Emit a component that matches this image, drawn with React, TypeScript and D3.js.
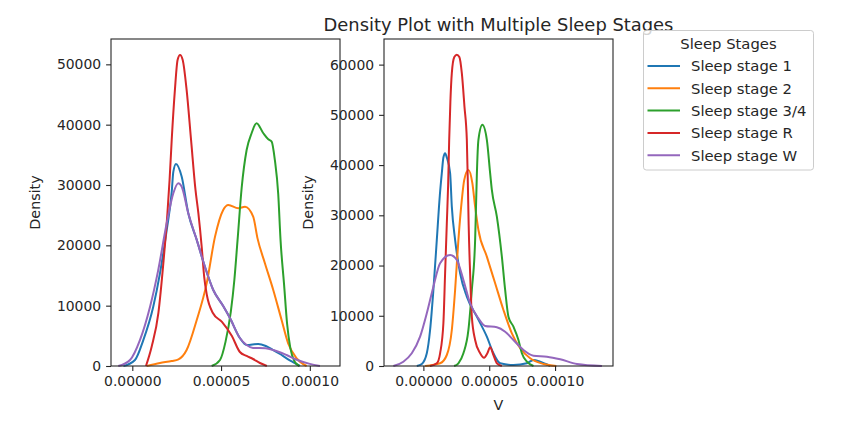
import React, { useRef, useEffect } from 'react';
import * as d3 from 'd3';

type Pt = [number, number];

// x values are in units of 1e-5 V, y values are density
const stageNames = ['Sleep stage 1', 'Sleep stage 2', 'Sleep stage 3/4', 'Sleep stage R', 'Sleep stage W'];
const stageColors = ['#1f77b4', '#ff7f0e', '#2ca02c', '#d62728', '#9467bd'];

// left panel
const leftStage1: Pt[] = [
  [-0.5, 0], [0.15, 1000], [0.62, 4300], [1.18, 9830], [1.56, 15400], [1.94, 22550], [2.22, 28850],
  [2.31, 32170], [2.46, 33500], [2.78, 31400], [3.15, 25370], [3.63, 20900], [4.09, 16460],
  [4.56, 12600], [5.12, 9950], [5.5, 7960], [6.06, 4640], [6.44, 3480], [7.09, 3650], [7.52, 3320],
  [7.94, 2650], [8.32, 1990], [8.69, 1280], [9.05, 660], [9.44, 0],
];
const leftStage2: Pt[] = [
  [0.81, 0], [1.56, 500], [2.22, 830], [2.6, 1100], [3.06, 2650], [3.63, 7630], [4.19, 13700],
  [4.66, 21440], [5.12, 25870], [5.41, 26700], [5.97, 26150], [6.35, 26400], [6.81, 24750],
  [7.05, 21200], [7.47, 17030], [7.94, 12600], [8.41, 7630], [8.78, 3760], [9.26, 1280], [9.82, 0],
];
const leftStage34: Pt[] = [
  [4.47, 0], [4.94, 1000], [5.25, 4000], [5.55, 9000], [5.75, 14300], [5.93, 20900], [6.16, 29500],
  [6.44, 35800], [6.72, 38580], [7.0, 40240], [7.38, 38580], [7.66, 37580], [7.85, 37190],
  [8.03, 34150], [8.22, 28500], [8.35, 20900], [8.55, 13500], [8.72, 7000], [8.9, 3000],
  [9.15, 700], [9.4, 0],
];
const leftStageR: Pt[] = [
  [0.77, 0], [1.09, 3200], [1.47, 8790], [1.75, 17080], [1.98, 25370], [2.1, 30840], [2.22, 37470],
  [2.4, 45760], [2.55, 50730], [2.69, 51560], [2.84, 50730], [3.06, 45760], [3.31, 37470],
  [3.56, 29180], [3.72, 25370], [3.91, 19730], [4.05, 14760], [4.2, 11770], [4.54, 8790],
  [5.05, 7300], [5.61, 4970], [6.06, 2320], [6.44, 1660], [6.8, 1160], [7.19, 500], [7.58, 0],
];
const leftStageW: Pt[] = [
  [-0.79, 0], [-0.13, 1000], [0.43, 4300], [1.0, 9830], [1.46, 15900], [1.94, 23700], [2.31, 28630],
  [2.59, 30300], [2.78, 29730], [3.15, 25370], [3.63, 20900], [4.09, 16460], [4.56, 12600],
  [5.12, 9950], [5.5, 7960], [6.06, 4640], [6.44, 3480], [6.8, 3000], [7.5, 2930], [7.94, 2650],
  [8.69, 1820], [9.3, 1000], [10.0, 350], [10.57, 0],
];

// right panel
const rightStage1: Pt[] = [
  [-0.5, 0], [-0.12, 400], [0.26, 2530], [0.51, 7170], [0.76, 15140], [1.02, 25100], [1.25, 34000],
  [1.4, 38390], [1.52, 41500], [1.65, 42370], [1.78, 41500], [2.03, 38390], [2.16, 31730],
  [2.41, 25100], [2.79, 18470], [3.3, 13800], [4.06, 9820], [4.82, 5840], [5.32, 2530],
  [5.83, 540], [6.84, 200], [7.86, 540], [8.36, 1200], [8.87, 860], [9.63, 0],
];
const rightStage2: Pt[] = [
  [0.13, 0], [1.27, 540], [1.78, 2190], [2.16, 7170], [2.41, 15140], [2.66, 25100], [2.92, 33070],
  [3.1, 37000], [3.42, 39040], [3.72, 36390], [3.93, 31730], [4.18, 27090], [4.82, 21770],
  [5.45, 16470], [6.08, 11160], [6.72, 6510], [7.35, 3530], [8.11, 1530], [9.12, 400], [10.1, 0],
];
const rightStage34: Pt[] = [
  [2.33, 0], [2.66, 540], [3.04, 2530], [3.42, 7170], [3.68, 15140], [3.93, 25100], [4.0, 32000],
  [4.06, 38000], [4.18, 45020], [4.48, 48010], [4.82, 45020], [5.07, 38390], [5.2, 35060],
  [5.58, 29740], [5.96, 21770], [6.21, 15140], [6.46, 9820], [6.84, 7830], [7.22, 5180],
  [7.48, 2530], [7.86, 860], [8.36, 0],
];
const rightStageR: Pt[] = [
  [0.5, 0], [1.02, 540], [1.27, 2530], [1.52, 8500], [1.65, 18470], [1.78, 28430], [1.88, 36000],
  [1.96, 45000], [2.05, 52500], [2.16, 58300], [2.35, 61500], [2.54, 61950], [2.73, 61500],
  [2.92, 58300], [3.12, 51650], [3.3, 45020], [3.38, 36000], [3.44, 28000], [3.55, 18470],
  [3.68, 9820], [3.93, 5180], [4.31, 2530], [4.61, 1650], [4.86, 2530], [5.07, 3720],
  [5.32, 2190], [5.58, 540], [5.96, 0],
];
const rightStageW: Pt[] = [
  [-2.28, 0], [-1.52, 860], [-0.88, 2530], [-0.25, 5840], [0.26, 10500], [0.76, 15800],
  [1.27, 20460], [2.03, 22110], [2.54, 21110], [3.04, 17130], [3.55, 12490], [4.18, 9500],
  [4.69, 7970], [5.58, 7710], [6.21, 6830], [6.84, 5180], [7.6, 3190], [8.36, 2050],
  [9.38, 1850], [10.39, 1330], [11.66, 400], [13.56, 0],
];

const leftSeries = [leftStage1, leftStage2, leftStage34, leftStageR, leftStageW];
const rightSeries = [rightStage1, rightStage2, rightStage34, rightStageR, rightStageW];

const xTicks = [0, 0.00005, 0.0001];
const leftYTicks = [0, 10000, 20000, 30000, 40000, 50000];
const rightYTicks = [0, 10000, 20000, 30000, 40000, 50000, 60000];

const X_UNIT = 1e-5;
const FONT = 'DejaVu Sans, sans-serif';

const App: React.FC = () => {
  const svgRef = useRef<SVGSVGElement | null>(null);

  useEffect(() => {
    if (!svgRef.current) return;
    document.body.style.margin = '0';
    const svg = d3.select(svgRef.current);
    svg.selectAll('*').remove();

    const top = 39, bottom = 366;

    const panels = [
      {
        series: leftSeries,
        x: d3.scaleLinear().domain([-1.2e-5, 1.17e-4]).range([111, 340]),
        y: d3.scaleLinear().domain([0, 54200]).range([bottom, top]),
        yTicks: leftYTicks,
        xLabel: '',
      },
      {
        series: rightSeries,
        x: d3.scaleLinear().domain([-2.99e-5, 1.44e-4]).range([384, 613]),
        y: d3.scaleLinear().domain([0, 65100]).range([bottom, top]),
        yTicks: rightYTicks,
        xLabel: 'V',
      },
    ];

    panels.forEach(p => {
      const [x0, x1] = p.x.range();

      // curves
      const line = d3.line<Pt>()
        .x(d => p.x(d[0] * X_UNIT))
        .y(d => p.y(d[1]))
        .curve(d3.curveMonotoneX);

      p.series.forEach((s, i) => {
        svg.append('path')
          .attr('d', line(s) || '')
          .attr('fill', 'none')
          .attr('stroke', stageColors[i])
          .attr('stroke-width', 2)
          .attr('stroke-linejoin', 'round');
      });

      // x axis
      const gx = svg.append('g')
        .attr('transform', `translate(0,${bottom})`)
        .call(d3.axisBottom(p.x).tickValues(xTicks).tickFormat(d3.format('.5f')).tickSizeOuter(0).tickSize(4.9).tickPadding(5));
      gx.select('.domain').remove();

      // y axis
      const gy = svg.append('g')
        .attr('transform', `translate(${x0},0)`)
        .call(d3.axisLeft(p.y).tickValues(p.yTicks).tickFormat(d3.format('d')).tickSizeOuter(0).tickSize(4.9).tickPadding(5));
      gy.select('.domain').remove();

      [gx, gy].forEach(g => {
        g.attr('font-family', FONT).attr('font-size', 13.9);
        g.selectAll('text').attr('fill', '#262626');
        g.selectAll('line').attr('stroke', '#262626').attr('stroke-width', 1.1);
      });

      // frame
      svg.append('rect')
        .attr('x', x0)
        .attr('y', top)
        .attr('width', x1 - x0)
        .attr('height', bottom - top)
        .attr('fill', 'none')
        .attr('stroke', '#262626')
        .attr('stroke-width', 1.1);

      // y label
      svg.append('text')
        .attr('transform', `translate(${x0 - 71},${(top + bottom) / 2}) rotate(-90)`)
        .attr('text-anchor', 'middle')
        .attr('font-family', FONT)
        .attr('font-size', 14.3)
        .attr('fill', '#262626')
        .text('Density');

      if (p.xLabel) {
        svg.append('text')
          .attr('x', (x0 + x1) / 2)
          .attr('y', 410)
          .attr('text-anchor', 'middle')
          .attr('font-family', FONT)
          .attr('font-size', 14.3)
          .attr('fill', '#262626')
          .text(p.xLabel);
      }
    });

    // title
    svg.append('text')
      .attr('x', 498.5)
      .attr('y', 30.5)
      .attr('text-anchor', 'middle')
      .attr('font-family', FONT)
      .attr('font-size', 17.9)
      .attr('fill', '#262626')
      .text('Density Plot with Multiple Sleep Stages');

    // legend
    const lg = svg.append('g').attr('transform', 'translate(643.5,30.5)');
    lg.append('rect')
      .attr('width', 170)
      .attr('height', 139.5)
      .attr('rx', 2.8)
      .attr('fill', 'white')
      .attr('fill-opacity', 0.8)
      .attr('stroke', '#cccccc')
      .attr('stroke-width', 1);
    lg.append('text')
      .attr('x', 85)
      .attr('y', 18.3)
      .attr('text-anchor', 'middle')
      .attr('font-family', FONT)
      .attr('font-size', 14.8)
      .attr('fill', '#262626')
      .text('Sleep Stages');
    stageNames.forEach((name, i) => {
      const yy = 35.5 + i * 22.3;
      lg.append('line')
        .attr('x1', 4)
        .attr('x2', 36.5)
        .attr('y1', yy)
        .attr('y2', yy)
        .attr('stroke', stageColors[i])
        .attr('stroke-width', 2);
      lg.append('text')
        .attr('x', 47.5)
        .attr('y', yy + 5.4)
        .attr('font-family', FONT)
        .attr('font-size', 14.8)
        .attr('fill', '#262626')
        .text(name);
    });
  }, []);

  return (
    <div>
      <svg ref={svgRef} width={844} height={423} style={{ display: 'block' }}></svg>
    </div>
  );
};

export default App;
